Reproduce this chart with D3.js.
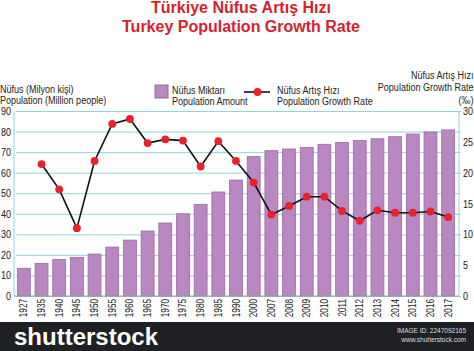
<!DOCTYPE html>
<html>
<head>
<meta charset="utf-8">
<script src="https://cdn.jsdelivr.net/npm/d3@7"></script>
<style>
  html, body { margin: 0; padding: 0; background: #fff; }
  svg { display: block; }
  text { font-family: "Liberation Sans", Arial, sans-serif; }
</style>
</head>
<body>
<svg width="474" height="351"></svg>
<script>
// Turkey population & growth rate
const years = ['1927','1935','1940','1945','1950','1955','1960','1965','1970','1975','1980','1985',
  '1990','2000','2007','2008','2009','2010','2011','2012','2013','2014','2015','2016','2017'];
// population, million people
const population = [13.5, 15.9, 17.7, 18.8, 20.4, 23.8, 27.2, 31.6, 35.5, 40.0, 44.6, 50.6,
  56.4, 67.8, 70.7, 71.5, 72.2, 73.8, 74.7, 75.6, 76.5, 77.5, 78.8, 79.8, 80.8];
// growth rate, per mille (no value for 1927)
const growth = [null, 21.4, 17.3, 11.0, 21.9, 27.9, 28.7, 24.8, 25.4, 25.2, 21.0, 25.1,
  21.9, 18.4, 13.2, 14.6, 16.1, 16.1, 13.8, 12.2, 13.9, 13.5, 13.5, 13.7, 12.8];
const leftTicks = [0, 10, 20, 30, 40, 50, 60, 70, 80, 90];
const rightTicks = [0, 5, 10, 15, 20, 25, 30];

const svg = d3.select('svg');
const red = '#d81e2c';
const grid = '#96d2da';
const K = 0.82; // condensed text look

const pLeft = 14, pRight = 459, pTop = 111, pBottom = 296;

const x = d3.scaleBand().domain(years).range([15, 457]).paddingInner(0.27).paddingOuter(0.135);
const yL = d3.scaleLinear().domain([0, 90]).range([pBottom, pTop]);
const yR = d3.scaleLinear().domain([0, 30]).range([pBottom, pTop]);

// squeeze text horizontally (along its own direction)
function squeeze(sel, pre) {
  sel.each(function () {
    const t = d3.select(this);
    const x0 = +t.attr('x') || 0;
    t.attr('x', x0 / K).attr('transform', (pre || '') + ` scale(${K},1)`);
  });
}

function label(g, xx, yy, str) {
  return g.append('text').attr('x', xx).attr('y', yy).text(str);
}

// titles
svg.append('text').attr('x', 241).attr('y', 13).attr('text-anchor', 'middle')
  .attr('font-weight', 'bold').attr('font-size', 16).attr('fill', red)
  .text('Türkiye Nüfus Artış Hızı');
svg.append('text').attr('x', 241).attr('y', 32).attr('text-anchor', 'middle')
  .attr('font-weight', 'bold').attr('font-size', 16).attr('fill', red)
  .text('Turkey Population Growth Rate');

// gridlines
const gridG = svg.append('g').attr('transform', `translate(${pLeft},0)`)
  .call(d3.axisLeft(yL).tickValues(leftTicks).tickSize(-(pRight - pLeft) - 2).tickFormat(''));
gridG.select('.domain').remove();
gridG.selectAll('.tick line').attr('stroke', grid).attr('stroke-width', 1).attr('x1', 2);

// frame sides
svg.append('line').attr('x1', pLeft).attr('x2', pLeft).attr('y1', pTop).attr('y2', pBottom).attr('stroke', grid);
svg.append('line').attr('x1', pRight).attr('x2', pRight).attr('y1', pTop).attr('y2', pBottom).attr('stroke', grid);

// bars
svg.append('g').selectAll('rect').data(years).join('rect')
  .attr('x', d => x(d))
  .attr('width', x.bandwidth())
  .attr('y', (d, i) => yL(population[i]))
  .attr('height', (d, i) => yL(0) - yL(population[i]))
  .attr('fill', '#b988c2')
  .attr('stroke', '#9a6aa6')
  .attr('stroke-width', 0.8);

// baseline
svg.append('line').attr('x1', pLeft).attr('x2', pRight).attr('y1', pBottom).attr('y2', pBottom)
  .attr('stroke', '#9aa3a6');

// left axis labels
const axL = svg.append('g').attr('transform', `translate(${pLeft},0)`)
  .call(d3.axisLeft(yL).tickValues(leftTicks).tickSize(0).tickPadding(3));
axL.select('.domain').remove();
axL.attr('font-family', null);
axL.selectAll('text').attr('font-size', 11).attr('fill', '#222').call(squeeze);

// right axis labels
const axR = svg.append('g').attr('transform', `translate(${pRight},0)`)
  .call(d3.axisRight(yR).tickValues(rightTicks).tickSize(0).tickPadding(4));
axR.select('.domain').remove();
axR.attr('font-family', null);
axR.selectAll('text').attr('font-size', 11).attr('fill', '#222').call(squeeze);

// x axis labels
const axX = svg.append('g').attr('transform', `translate(0,${pBottom})`)
  .call(d3.axisBottom(x).tickSize(0));
axX.select('.domain').remove();
axX.attr('font-family', null);
axX.selectAll('text')
  .attr('font-size', 10).attr('fill', '#222')
  .attr('text-anchor', 'end')
  .attr('x', -3).attr('y', 0).attr('dy', '0.35em')
  .call(squeeze, 'rotate(-90)');

// growth line
const pts = years.map((d, i) => ({ year: d, v: growth[i] })).filter(d => d.v != null);
const line = d3.line().x(d => x(d.year) + x.bandwidth() / 2).y(d => yR(d.v));
svg.append('path').datum(pts).attr('d', line)
  .attr('fill', 'none').attr('stroke', '#111').attr('stroke-width', 1.6);
svg.append('g').selectAll('circle').data(pts).join('circle')
  .attr('cx', d => x(d.year) + x.bandwidth() / 2)
  .attr('cy', d => yR(d.v))
  .attr('r', 3.9)
  .attr('fill', '#e8212b');

// axis titles
const tL = svg.append('g').attr('font-size', 11).attr('fill', '#222');
label(tL, 0, 93, 'Nüfus (Milyon kişi)');
label(tL, 0, 104, 'Population (Million people)');
tL.selectAll('text').call(squeeze);

const tR = svg.append('g').attr('font-size', 11).attr('fill', '#222').attr('text-anchor', 'end');
label(tR, 473.5, 79.5, 'Nüfus Artış Hızı');
label(tR, 473.5, 91, 'Population Growth Rate');
label(tR, 473.5, 104, '(‰)');
tR.selectAll('text').call(squeeze);

// legend
const lg = svg.append('g').attr('font-size', 11).attr('fill', '#222');
lg.append('rect').attr('x', 155).attr('y', 85).attr('width', 13).attr('height', 13)
  .attr('fill', '#b988c2').attr('stroke', '#9a6aa6');
lg.append('line').attr('x1', 244).attr('x2', 270).attr('y1', 92).attr('y2', 92)
  .attr('stroke', '#111').attr('stroke-width', 1.6);
lg.append('circle').attr('cx', 257.5).attr('cy', 92).attr('r', 3.9).attr('fill', '#e8212b');
label(lg, 172, 94.5, 'Nüfus Miktarı');
label(lg, 172, 105.5, 'Population Amount');
label(lg, 277, 94.5, 'Nüfus Artış Hızı');
label(lg, 277, 105.5, 'Population Growth Rate');
lg.selectAll('text').call(squeeze);

// footer band
svg.append('rect').attr('x', 0).attr('y', 322).attr('width', 474).attr('height', 29).attr('fill', '#1e2024');
svg.append('text').attr('x', 14).attr('y', 345).attr('fill', '#fff')
  .attr('font-weight', 'bold').attr('font-size', 24).text('shutterstock');
svg.append('text').attr('x', 466).attr('y', 333).attr('text-anchor', 'end').attr('fill', '#ddd')
  .attr('font-size', 6.5).text('IMAGE ID: 2247092165');
svg.append('text').attr('x', 466).attr('y', 342).attr('text-anchor', 'end').attr('fill', '#ddd')
  .attr('font-size', 6.5).text('www.shutterstock.com');
</script>
</body>
</html>
